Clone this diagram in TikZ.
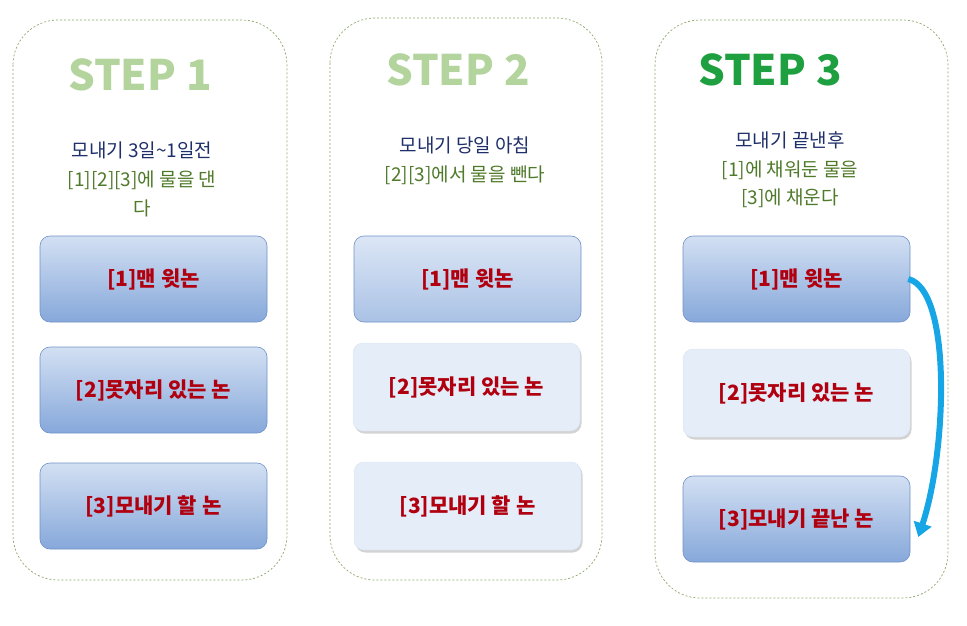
\documentclass[tikz,border=0pt]{standalone}
\usepackage{fontspec}
\setmainfont{Noto Sans CJK KR}
\usetikzlibrary{shadows,arrows.meta}
\definecolor{navy}{HTML}{1F2F6A}
\definecolor{dgreen}{HTML}{4F7A2A}
\definecolor{pale}{HTML}{B3D49C}
\definecolor{sgreen}{HTML}{1FA040}
\definecolor{bred}{HTML}{B00010}
\definecolor{bbord}{HTML}{6E91C8}
\definecolor{btop}{HTML}{D3E0F3}
\definecolor{bbot}{HTML}{86A8DA}
\definecolor{lfill}{HTML}{E5EDF8}
\definecolor{panelc}{HTML}{8FA86A}
\definecolor{arr}{HTML}{16A6E6}
\tikzset{
 panel/.style={draw=panelc, dash pattern=on 2pt off 2pt, rounded corners=45pt, line width=0.7pt},
 bluebox/.style={draw=bbord, rounded corners=10pt, top color=btop, bottom color=bbot, line width=0.6pt, minimum width=227pt, minimum height=86pt, font=\fontsize{21}{24}\selectfont\bfseries, text=bred},
 lightbox/.style={draw=white!75!bbord, rounded corners=10pt, fill=lfill, drop shadow={opacity=0.35, shadow xshift=1.5pt, shadow yshift=-2.5pt}, minimum width=227pt, minimum height=88pt, font=\fontsize{21}{24}\selectfont\bfseries, text=bred},
 steplbl/.style={font=\fontsize{42}{46}\selectfont\bfseries, text=pale},
 sub/.style={font=\fontsize{19}{22}\selectfont, text=navy},
 subg/.style={font=\fontsize{19}{22}\selectfont, text=dgreen},
}
\begin{document}
\begin{tikzpicture}[x=1pt,y=-1pt]
\useasboundingbox (0,0) rectangle (967,626);
\draw[panel] (13,20) rectangle (287,580);
\draw[panel] (330,18) rectangle (602,580);
\draw[panel] (655,20) rectangle (948,598);
\node[steplbl] (s1) at (140,75) {STEP\hspace{10pt}1};
\node[steplbl] (s2) at (458,70) {STEP\hspace{10pt}2};
\node[steplbl, text=sgreen] (s3) at (770,70) {STEP\hspace{10pt}3};
\node[sub] (t11) at (142,150) {모내기 3일\textasciitilde1일전};
\node[subg] (t12) at (142,180) {[1][2][3]에 물을 댄};
\node[subg] (t13) at (142,208) {다};
\node[sub] (t21) at (465,145) {모내기 당일 아침};
\node[subg] (t22) at (465,175) {[2][3]에서 물을 뺀다};
\node[sub] (t31) at (790,140) {모내기 끝낸후};
\node[subg] (t32) at (790,170) {[1]에 채워둔 물을};
\node[subg] (t33) at (790,198) {[3]에 채운다};
\node[bluebox] (a1) at (153.5,279) {[1]맨 윗논};
\node[bluebox] (a2) at (153.5,390) {[2]못자리 있는 논};
\node[bluebox] (a3) at (153.5,506) {[3]모내기 할 논};
\node[bluebox, top color=btop!80!white, bottom color=bbot!70!white] (b1) at (467.5,279) {[1]맨 윗논};
\node[lightbox] (b2) at (466.5,387) {[2]못자리 있는 논};
\node[lightbox] (b3) at (467.5,506) {[3]모내기 할 논};
\node[bluebox] (c1) at (796.5,279) {[1]맨 윗논};
\node[lightbox] (c2) at (796.5,393) {[2]못자리 있는 논};
\node[bluebox] (c3) at (796.5,519) {[3]모내기 끝난 논};
\draw[draw=arr, line width=6pt, -{Triangle[length=14pt,width=18pt]}]
 ([xshift=-2pt]c1.east) .. controls (952,290) and (947,450) .. ([xshift=8pt,yshift=-18pt]c3.east);
\end{tikzpicture}
\end{document}
